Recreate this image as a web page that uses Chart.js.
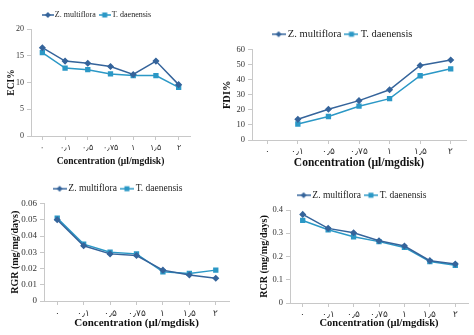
<!DOCTYPE html>
<html>
<head>
<meta charset="utf-8">
<script src="https://cdn.jsdelivr.net/npm/chart.js@4/dist/chart.umd.min.js"></script>
<style>
  body { margin: 0; background: #fff; }
  .panel { position: absolute; }
</style>
</head>
<body>
<div class="panel" style="left:0;top:0;width:215px;height:167px"><canvas id="eci"></canvas></div>
<div class="panel" style="left:215px;top:0;width:259px;height:170px"><canvas id="fdi"></canvas></div>
<div class="panel" style="left:0;top:167px;width:237px;height:168px"><canvas id="rgr"></canvas></div>
<div class="panel" style="left:237px;top:167px;width:237px;height:168px"><canvas id="rcr"></canvas></div>
<script>
// concentration levels (µl/mg disk), Persian numerals
const concLabels = ["۰", "۰٫۱", "۰٫۵", "۰٫۷۵", "۱", "۱٫۵", "۲"];

const eciZataria = [16.5, 14.0, 13.6, 13.0, 11.5, 14.0, 9.6];
const eciThymus = [15.6, 12.7, 12.4, 11.6, 11.3, 11.3, 9.1];

const fdiZataria = [null, 13.7, 20.4, 26.1, 33.3, 49.4, 53.0];
const fdiThymus = [null, 10.6, 15.6, 22.4, 27.4, 42.6, 47.2];

const rgrZataria = [0.050, 0.034, 0.029, 0.028, 0.019, 0.016, 0.014];
const rgrThymus = [0.051, 0.035, 0.030, 0.029, 0.018, 0.017, 0.019];

const rcrZataria = [0.381, 0.321, 0.302, 0.268, 0.245, 0.182, 0.168];
const rcrThymus = [0.355, 0.315, 0.285, 0.264, 0.239, 0.178, 0.162];

const zColor = "#35649b";
const tColor = "#2b98c6";
const fontFamily = "'Liberation Serif', 'DejaVu Serif', serif";

// small line + marker picture for the legend entries
function legendIcon(color, square, w) {
  const c = document.createElement("canvas");
  c.width = w;
  c.height = 8;
  const g = c.getContext("2d");
  const m = w / 2;
  g.strokeStyle = color;
  g.lineWidth = 1.5;
  g.beginPath();
  g.moveTo(0, 4);
  g.lineTo(w, 4);
  g.stroke();
  g.fillStyle = color;
  if (square) {
    g.fillRect(m - 2.5, 1.5, 5, 5);
  } else {
    g.beginPath();
    g.moveTo(m, 1);
    g.lineTo(m + 3, 4);
    g.lineTo(m, 7);
    g.lineTo(m - 3, 4);
    g.closePath();
    g.fill();
  }
  return c;
}

function makeChart(id, zData, tData, yTitle, yMax, yStep, box) {
  const ctx = document.getElementById(id).getContext("2d");
  return new Chart(ctx, {
    type: "line",
    data: {
      labels: concLabels,
      datasets: [
        {
          label: "Z. multiflora",
          data: zData,
          borderColor: zColor,
          backgroundColor: zColor,
          borderWidth: 1.5,
          pointStyle: "rectRot",
          pointRadius: 2.5,
          legendIcon: legendIcon(zColor, false, box.iconW),
        },
        {
          label: "T. daenensis",
          data: tData,
          borderColor: tColor,
          backgroundColor: tColor,
          borderWidth: 1.5,
          pointStyle: "rect",
          pointRadius: 2.7,
          legendIcon: legendIcon(tColor, true, box.iconW),
        },
      ],
    },
    options: {
      responsive: true,
      maintainAspectRatio: false,
      animation: false,
      layout: {
        padding: { left: box.left, right: box.right, top: box.top, bottom: box.bottom },
      },
      plugins: {
        tooltip: { enabled: false },
        legend: {
          position: "top",
          labels: {
            usePointStyle: true,
            pointStyleWidth: box.iconW - 6,
            padding: 6,
            color: "#222",
            font: { family: fontFamily, size: box.legendSize },
            generateLabels: (chart) =>
              chart.data.datasets.map((ds, i) => ({
                text: ds.label,
                pointStyle: ds.legendIcon,
                fillStyle: ds.borderColor,
                strokeStyle: ds.borderColor,
                lineWidth: 0,
                fontColor: "#222",
                datasetIndex: i,
              })),
          },
        },
      },
      scales: {
        x: {
          offset: true,
          grid: {
            drawOnChartArea: false,
            drawTicks: true,
            tickLength: 4,
            color: "#c8c8c8",
          },
          border: { color: "#c8c8c8" },
          ticks: {
            color: "#333",
            padding: 3,
            maxRotation: 0,
            font: { family: fontFamily, size: box.tickSize },
          },
          title: {
            display: true,
            text: "Concentration (µl/mgdisk)",
            color: "#111",
            padding: 0,
            font: { family: fontFamily, size: box.xTitleSize, weight: "bold" },
          },
          afterFit: (scale) => { scale.height = box.xHeight; },
        },
        y: {
          min: 0,
          max: yMax,
          grid: {
            drawOnChartArea: false,
            drawTicks: true,
            tickLength: 4,
            color: "#c8c8c8",
          },
          border: { color: "#c8c8c8" },
          ticks: {
            stepSize: yStep,
            color: "#333",
            padding: 3,
            font: { family: fontFamily, size: box.tickSize },
            callback: (v) => String(Number(v.toFixed(3))),
          },
          title: {
            display: true,
            text: yTitle,
            color: "#111",
            padding: 0,
            font: { family: fontFamily, size: box.yTitleSize, weight: "bold" },
          },
          afterFit: (scale) => {
            scale.width = box.yWidth;
            // keeps the plot area top at a fixed distance below the legend
            scale.paddingTop = box.areaTop;
          },
        },
      },
    },
  });
}

makeChart("eci", eciZataria, eciThymus, "ECI%", 20, 5, {
  left: 6, right: 25, top: 2, bottom: 0, areaTop: 29, xHeight: 31, yWidth: 25,
  legendSize: 8, iconW: 12, tickSize: 8, xTitleSize: 9.5, yTitleSize: 9.5,
});
makeChart("fdi", fdiZataria, fdiThymus, "FDI%", 60, 10, {
  left: 6, right: 8, top: 23, bottom: 0, areaTop: 49, xHeight: 30, yWidth: 31,
  legendSize: 10.5, iconW: 14, tickSize: 8.5, xTitleSize: 11.5, yTitleSize: 10.5,
});
makeChart("rgr", rgrZataria, rgrThymus, "RGR (mg/mg/days)", 0.06, 0.01, {
  left: 9, right: 8, top: 11, bottom: 5, areaTop: 36, xHeight: 29, yWidth: 35,
  legendSize: 9.5, iconW: 14, tickSize: 9, xTitleSize: 11, yTitleSize: 10,
});
makeChart("rcr", rcrZataria, rcrThymus, "RCR (mg/mg/days)", 0.4, 0.05, {
  left: 21, right: 6, top: 17, bottom: 5, areaTop: 43, xHeight: 27, yWidth: 32,
  legendSize: 9.5, iconW: 14, tickSize: 8.5, xTitleSize: 10.5, yTitleSize: 10,
});
</script>
</body>
</html>
